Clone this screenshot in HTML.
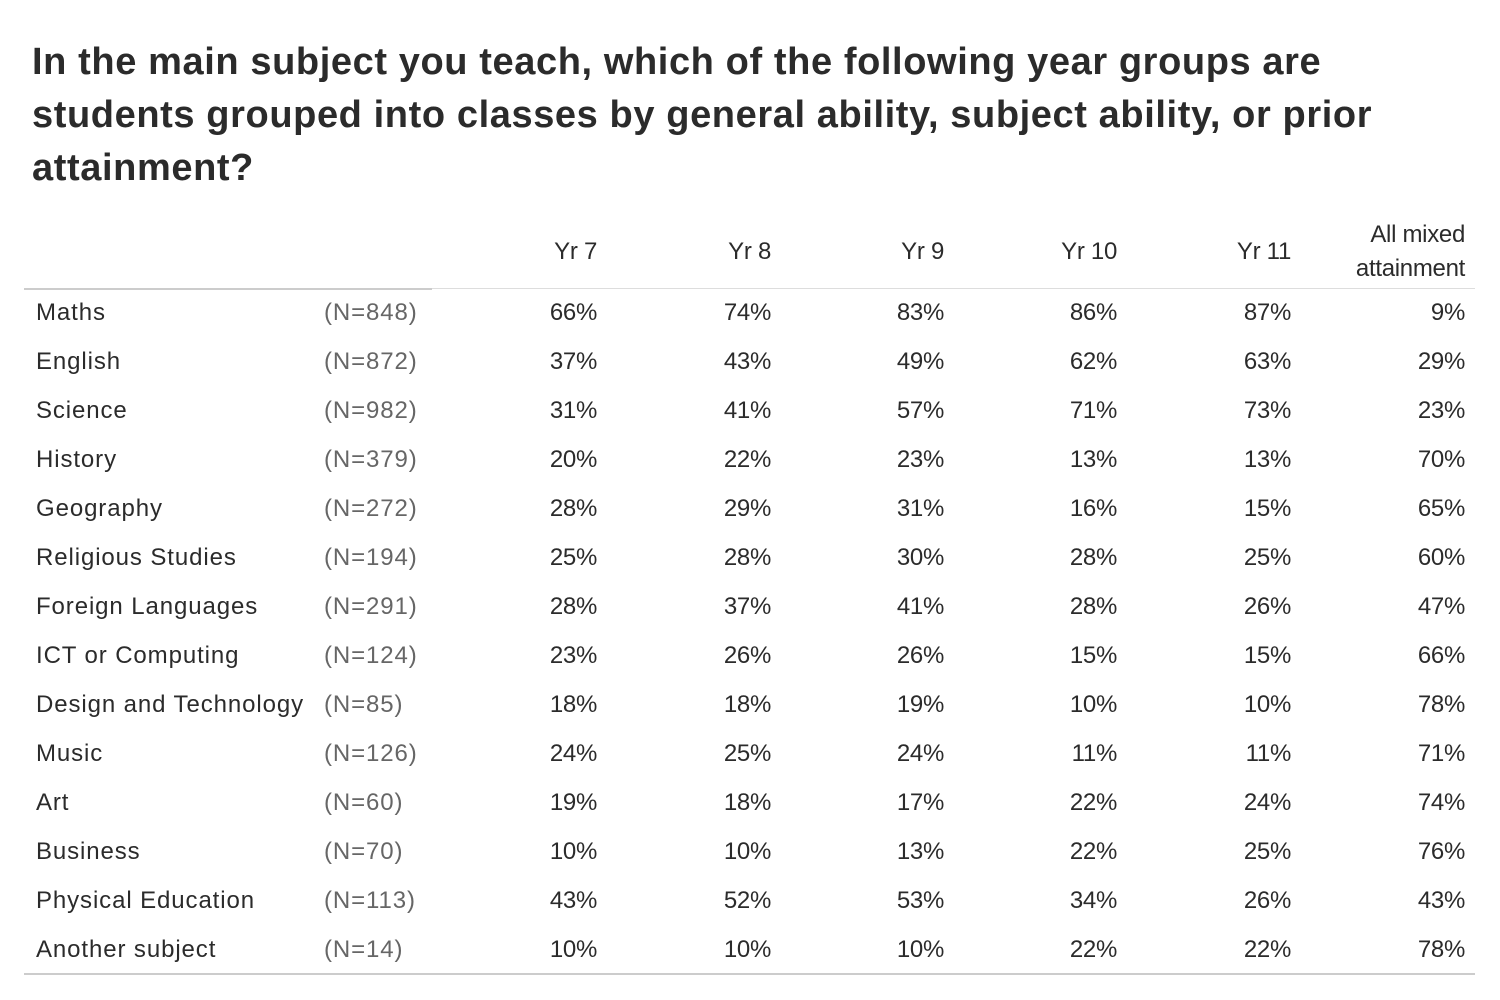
<!DOCTYPE html>
<html><head><meta charset="utf-8"><style>
body{margin:0;width:1500px;height:1000px;background:#fff;font-family:"Liberation Sans",sans-serif;color:#2b2b2b;position:relative;overflow:hidden}
h1{position:absolute;left:32px;top:36px;margin:0;font-size:38px;line-height:53px;font-weight:bold;letter-spacing:0.6px;width:1460px;color:#2b2b2b;white-space:nowrap}
.t{position:absolute;font-size:24px;line-height:30px;white-space:nowrap;letter-spacing:-0.3px}
.l{letter-spacing:0.9px}
.r{text-align:right}
.n{color:#666}
.line{position:absolute;height:2px;background:#ccc}
</style></head><body>
<h1>In the main subject you teach, which of the following year groups are<br>students grouped into classes by general ability, subject ability, or prior<br>attainment?</h1>
<div class="line" style="left:24px;top:288px;width:408px"></div>
<div class="line" style="left:432px;top:288px;width:1043px;height:1px;background:#ddd"></div>
<div class="line" style="left:24px;top:973px;width:408px"></div>
<div class="line" style="left:432px;top:973px;width:1043px"></div>
<div id="c"></div>
<script>
var H=[["Yr 7",597],["Yr 8",771],["Yr 9",944],["Yr 10",1117],["Yr 11",1291]];
var s="";
H.forEach(function(h){s+='<div class="t r" style="left:'+(h[1]-200)+'px;width:200px;top:237px">'+h[0]+'</div>';});
s+='<div class="t r" style="left:1265px;width:200px;top:218px;line-height:34px">All mixed<br>attainment</div>';
var D=[["Maths","848",[66,74,83,86,87,9]],["English","872",[37,43,49,62,63,29]],["Science","982",[31,41,57,71,73,23]],["History","379",[20,22,23,13,13,70]],["Geography","272",[28,29,31,16,15,65]],["Religious Studies","194",[25,28,30,28,25,60]],["Foreign Languages","291",[28,37,41,28,26,47]],["ICT or Computing","124",[23,26,26,15,15,66]],["Design and Technology","85",[18,18,19,10,10,78]],["Music","126",[24,25,24,11,11,71]],["Art","60",[19,18,17,22,24,74]],["Business","70",[10,10,13,22,25,76]],["Physical Education","113",[43,52,53,34,26,43]],["Another subject","14",[10,10,10,22,22,78]]];
var X=[597,771,944,1117,1291,1465];
D.forEach(function(d,i){var y=297+i*49;
s+='<div class="t l" style="left:36px;top:'+(y+1)+'px">'+d[0]+'</div>';
s+='<div class="t n l" style="left:324px;top:'+(y+1)+'px">(N='+d[1]+')</div>';
d[2].forEach(function(v,j){s+='<div class="t r" style="left:'+(X[j]-200)+'px;width:200px;top:'+(y+1)+'px">'+v+'%</div>';});});
document.getElementById("c").innerHTML=s;
</script>
</body></html>
